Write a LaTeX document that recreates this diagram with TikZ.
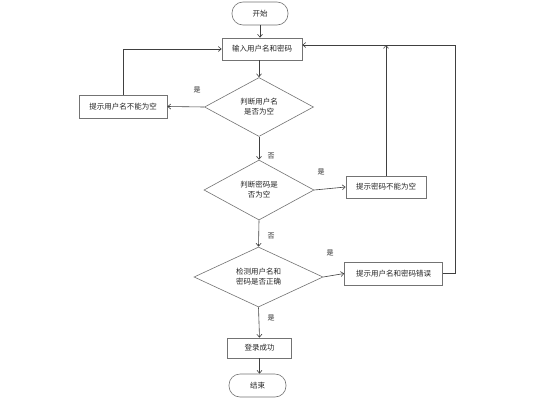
\documentclass[tikz,border=0pt]{standalone}
\usepackage{fontspec}
\newfontfamily\cjk{Noto Sans CJK SC}
\usetikzlibrary{shapes.geometric,arrows.meta}
\begin{document}
\begin{tikzpicture}[x=1pt,y=-1pt,
  every node/.style={font=\cjk\fontsize{7.5}{10}\selectfont, text=black!85},
  proc/.style={draw=black!55, line width=0.6pt, minimum height=22pt, inner sep=2pt, fill=white},
  term/.style={draw=black!55, line width=0.6pt, rounded corners=11pt, minimum height=23pt, fill=white},
  dec/.style={draw=black!55, line width=0.6pt, diamond, aspect=1.85, inner sep=0pt, align=center, fill=white},
  conn/.style={draw=black!75, line width=0.6pt, -{Straight Barb[length=3pt,width=5pt]}},
  plain/.style={draw=black!75, line width=0.6pt},
  lbl/.style={font=\cjk\fontsize{7}{9}\selectfont}
]
\useasboundingbox (0,0) rectangle (538,402);
\node[term, minimum width=56pt] (start) at (260,13.5) {开始};
\node[proc, minimum width=80pt] (input) at (262,49) {输入用户名和密码};
\node[dec, minimum width=109pt, minimum height=59pt] (d1) at (259,107) {判断用户名\\是否为空};
\node[proc, minimum width=88pt, minimum height=23pt] (e1) at (123,106.5) {提示用户名不能为空};
\node[dec, minimum width=110pt, minimum height=60pt] (d2) at (259,190) {判断密码是\\否为空};
\node[proc, minimum width=80pt, minimum height=22pt] (e2) at (386,187) {提示密码不能为空};
\node[dec, minimum width=129pt, minimum height=60pt] (d3) at (258.5,277) {检测用户名和\\密码是否正确};
\node[proc, minimum width=98pt, minimum height=23pt] (e3) at (393.5,273.5) {提示用户名和密码错误};
\node[proc, minimum width=64pt, minimum height=20pt] (ok) at (259.5,348) {登录成功};
\node[term, minimum width=57pt] (end) at (257.5,385.5) {结束};

\coordinate (c1) at (e1.north |- input.west);
\coordinate (c2) at (455,45);
\coordinate (c3) at (e2.north |- c2);

\draw[conn] (start) -- (start |- input.north);
\draw[conn] (input.south -| d1.north) -- (d1.north);
\draw[conn] (d1.west) -- (e1.east);
\draw[conn] (e1.north) -- (c1) -- (input.west);
\draw[conn] (d1.south) -- (d2.north);
\draw[conn] (d2.east) -- (e2.west);
\draw[conn] (e2.north) -- (c3);
\draw[conn] (d2.south) -- (d3.north);
\draw[conn] (d3.east) -- (e3.west);
\draw[plain] (e3.east) -- (e3.east -| c2) -- (c2);
\draw[conn] (c2) -- (input.east |- c2);
\draw[conn] (d3.south) -- (ok.north);
\draw[conn] (ok.south) -- (ok.south |- end.north);

\node[lbl] (l1) at (197,90) {是};
\node[lbl] (l2) at (271,156) {否};
\node[lbl] (l3) at (321,172) {是};
\node[lbl] (l4) at (271,236) {否};
\node[lbl] (l5) at (330,253) {是};
\node[lbl] (l6) at (271,318) {是};
\end{tikzpicture}
\end{document}
